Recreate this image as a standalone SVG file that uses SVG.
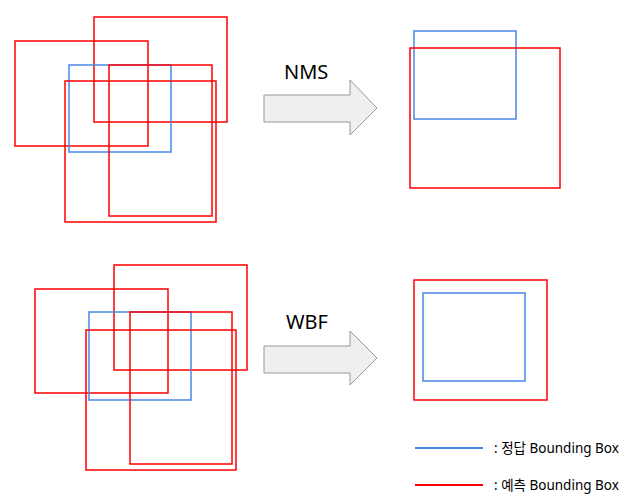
<svg xmlns="http://www.w3.org/2000/svg" width="626" height="500" viewBox="0 0 626 500">
<style>
.r{fill:none;stroke:#ff0000;stroke-width:1.5}
.b{fill:none;stroke:#4a86e8;stroke-width:1.5}
.a{fill:#efefef;stroke:#999999;stroke-width:1}
.t{font-family:"Noto Sans","Noto Sans CJK KR",sans-serif;font-size:20px;fill:#000}
.l{font-family:"Noto Sans","Noto Sans CJK KR",sans-serif;font-size:13.5px;fill:#000}
</style>
<rect width="626" height="500" fill="#fff"/>
<g id="nms-before">
<rect class="r" x="15" y="41" width="133" height="105"/>
<rect class="r" x="94" y="17" width="133" height="105"/>
<rect class="b" x="69" y="65" width="102" height="87"/>
<rect class="r" x="109" y="65" width="103" height="151"/>
<rect class="r" x="65" y="81" width="151" height="141"/>
</g>
<g id="nms-after">
<rect class="b" x="414" y="31" width="102" height="88"/>
<rect class="r" x="410" y="48" width="150" height="140"/>
</g>
<g id="wbf-before">
<rect class="r" x="35" y="289" width="133" height="104"/>
<rect class="r" x="114" y="265" width="133" height="105"/>
<rect class="b" x="89" y="312" width="102" height="88"/>
<rect class="r" x="130" y="312" width="102" height="152"/>
<rect class="r" x="86" y="330" width="150" height="140"/>
</g>
<g id="wbf-after">
<rect class="r" x="414" y="280" width="133" height="120"/>
<rect class="b" x="423" y="293" width="102" height="88"/>
</g>
<g id="connectors">
<path class="a" d="M264,95 H350 V80 L377,108 L350,135 V122 H264 Z"/>
<path class="a" d="M264,346 H350 V331 L377,358 L350,385 V373 H264 Z"/>
</g>
<g id="labels">
<text class="t" x="284" y="79">NMS</text>
<text class="t" x="286" y="329">WBF</text>
</g>
<g id="legend">
<line x1="415" y1="448" x2="483" y2="448" stroke="#4a86e8" stroke-width="2"/>
<text class="l" x="494" y="453">: 정답 Bounding Box</text>
<line x1="415" y1="485" x2="483" y2="485" stroke="#ff0000" stroke-width="2"/>
<text class="l" x="494" y="490">: 예측 Bounding Box</text>
</g>
</svg>
